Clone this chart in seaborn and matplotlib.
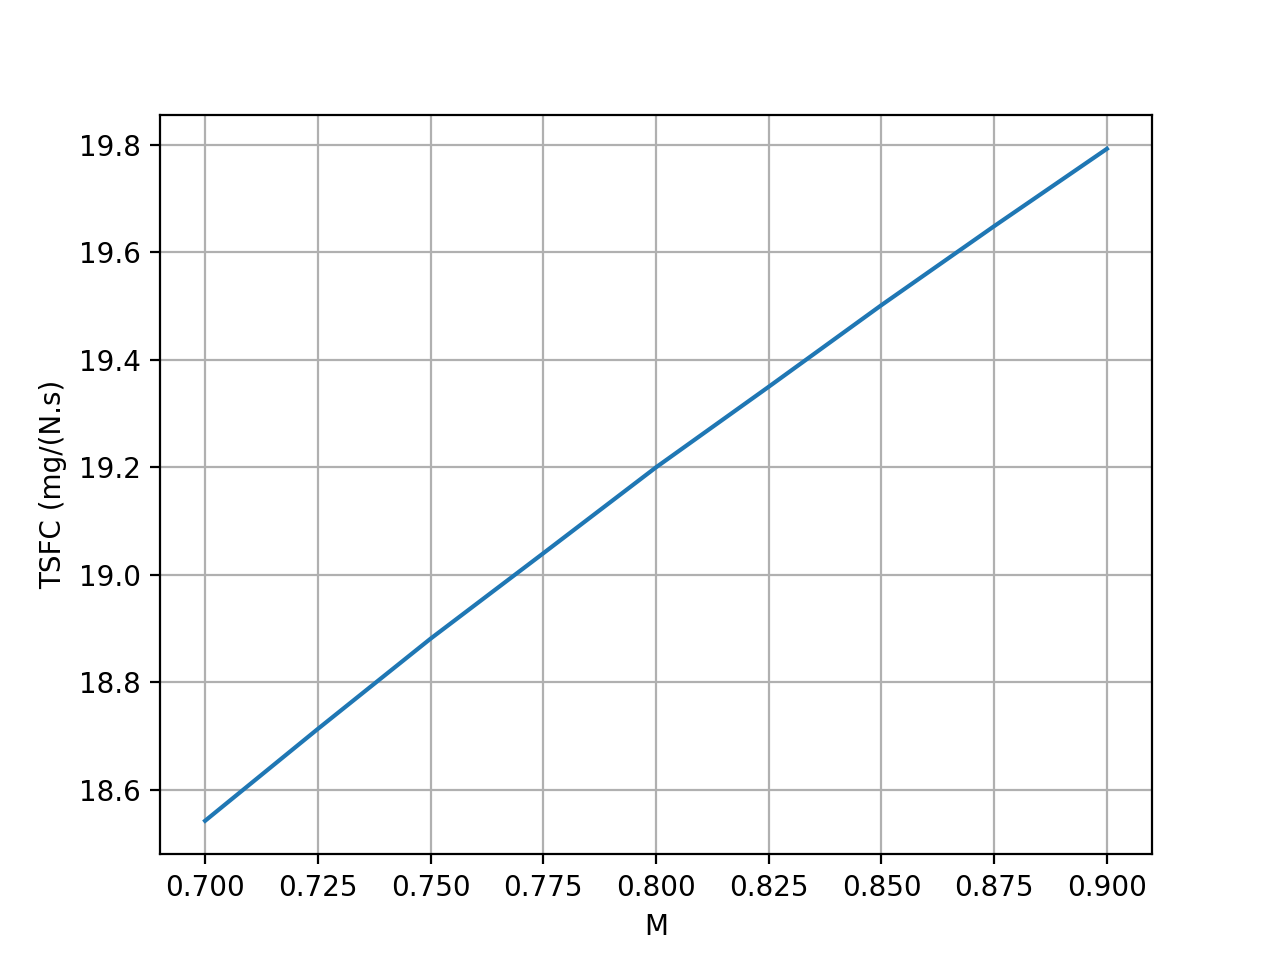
import matplotlib
matplotlib.use("Agg")
import matplotlib.pyplot as plt
import seaborn as sns
import pandas as pd

mach = [0.700, 0.725, 0.750, 0.775, 0.800, 0.825, 0.850, 0.875, 0.900]
tsfc = [18.542, 18.713, 18.881, 19.040, 19.200, 19.350, 19.502, 19.649, 19.793]

df = pd.DataFrame({"M": mach, "TSFC": tsfc})

fig, ax = plt.subplots(figsize=(6.4, 4.8), dpi=200)
sns.lineplot(data=df, x="M", y="TSFC", ax=ax, color="#1f77b4", linewidth=1.5)
ax.set_xlabel("M")
ax.set_ylabel("TSFC (mg/(N.s)")
ax.grid(True)
ax.set_xticks([0.700, 0.725, 0.750, 0.775, 0.800, 0.825, 0.850, 0.875, 0.900])
ax.set_xticklabels(["0.700", "0.725", "0.750", "0.775", "0.800", "0.825", "0.850", "0.875", "0.900"])
fig.savefig("out.png", dpi=200)
